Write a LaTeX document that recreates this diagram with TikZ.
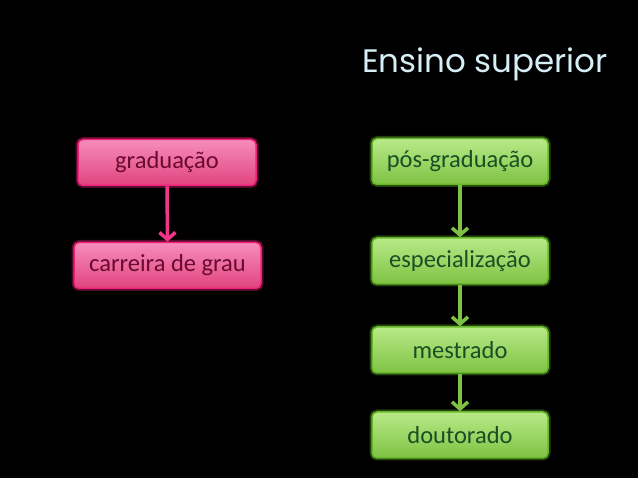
\documentclass[tikz,border=0pt]{standalone}
\usepackage{fontspec}
\setmainfont{Carlito}
\newfontfamily\titlefont{Poppins}
\usetikzlibrary{arrows.meta,shadings}
\definecolor{pinktop}{HTML}{F68DBA}
\definecolor{pinkbot}{HTML}{E2437F}
\definecolor{pinkedge}{HTML}{F0207A}
\definecolor{pinktext}{HTML}{6A0A30}
\definecolor{greentop}{HTML}{B8EA88}
\definecolor{greenbot}{HTML}{7EC243}
\definecolor{greenedge}{HTML}{66B82A}
\definecolor{greentext}{HTML}{184F24}
\definecolor{titlecol}{HTML}{D6EEF6}
\tikzset{
  pinkbox/.style={rounded corners=5pt, minimum width=180pt, minimum height=46pt,
    top color=pinktop, bottom color=pinkbot, draw=pinkedge, line width=1.5pt,
    text=pinktext, font=\fontsize{24.5}{26}\selectfont, inner sep=0pt},
  greenbox/.style={rounded corners=5pt, minimum width=176pt, minimum height=46pt,
    top color=greentop, bottom color=greenbot, draw=greenedge, line width=1.5pt,
    text=greentext, font=\fontsize{24.5}{26}\selectfont, inner sep=0pt},
  pinkglow/.style={preaction={draw=pinkedge, line width=5pt, draw opacity=0.35}},
  greenglow/.style={preaction={draw=greenedge, line width=5pt, draw opacity=0.35}},
  pinkarrow/.style={draw=pinkedge!90!white, line width=3.5pt, -{Straight Barb[length=7pt,width=16pt]}},
  greenarrow/.style={draw=greenbot, line width=3.5pt, -{Straight Barb[length=7pt,width=16pt]}},
}
\begin{document}
\begin{tikzpicture}[x=1pt,y=-1pt]
\fill[black] (0,0) rectangle (638,478);
\useasboundingbox (0,0) rectangle (638,478);
\node[text=titlecol, font=\titlefont\fontsize{32.5}{34}\selectfont] (title) at (485,64) {Ensino superior};
\node[pinkbox, pinkglow, minimum width=178pt] (grad) at (167,162.5) {graduação};
\node[pinkbox, pinkglow, minimum width=187pt] (carr) at (167.5,265.5) {carreira de grau};
\node[greenbox, greenglow] (pos) at (460,161.5) {pós-graduação};
\node[greenbox, greenglow] (esp) at (460,261) {especialização};
\node[greenbox, greenglow] (mes) at (460,350) {mestrado};
\node[greenbox, greenglow] (dou) at (460,435) {doutorado};
\draw[pinkarrow] (grad.south) -- (carr.north);
\draw[greenarrow] (pos.south) -- (esp.north);
\draw[greenarrow] (esp.south) -- (mes.north);
\draw[greenarrow] (mes.south) -- (dou.north);
\end{tikzpicture}
\end{document}
